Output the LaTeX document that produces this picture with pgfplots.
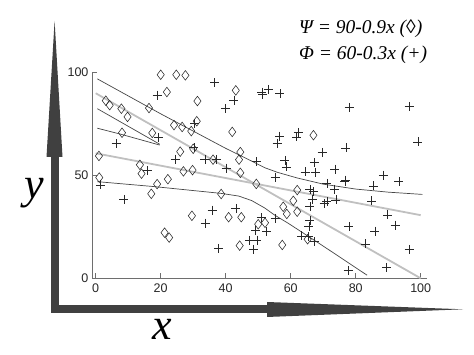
\documentclass[border=0pt]{standalone}
\usepackage{pgfplots}
\pgfplotsset{compat=1.18}
\usepackage{fontspec}
\setmainfont{Liberation Serif}
\newfontfamily\sansf{Liberation Sans}
\definecolor{arr}{RGB}{64,64,64}
\definecolor{lg}{RGB}{192,192,192}
\definecolor{dk}{RGB}{70,70,70}
\definecolor{mk}{RGB}{40,40,40}
\definecolor{ax}{RGB}{110,110,110}

\pgfplotstableread{
x y
20.0 99.0
24.8 99.0
27.6 98.7
21.9 90.6
31.3 86.2
43.1 91.4
3.1 86.4
4.3 84.2
7.9 82.5
9.8 78.5
16.4 82.8
8.1 70.8
17.4 70.7
24.1 74.5
26.6 73.6
29.4 71.6
31.1 76.4
42.0 71.2
1.0 59.5
26.0 61.6
30.0 63.0
44.5 61.4
44.1 57.7
36.1 57.7
13.6 55.2
27.0 52.0
29.8 52.6
44.5 51.3
1.1 49.0
14.1 50.9
18.9 45.8
22.2 48.2
17.1 41.1
38.6 41.0
29.6 30.4
40.9 29.7
44.8 29.7
21.2 22.2
22.6 19.8
44.3 15.9
49.4 45.9
50.0 26.3
52.1 27.0
62.0 42.9
60.8 37.7
57.7 34.8
58.8 31.3
62.0 32.4
57.4 16.2
65.2 19.0
67.0 69.6
}\psidata

\pgfplotstableread{
x y
36.6 95.1
18.9 89.1
42.5 86.6
39.9 82.5
30.4 75.3
19.3 68.5
6.3 65.5
30.2 63.5
24.4 58.0
33.6 57.9
37.1 57.9
40.1 53.6
15.9 52.5
49.4 56.7
51.1 90.6
53.1 91.9
51.3 89.3
56.7 89.8
78.0 83.1
96.4 83.6
99.1 66.3
56.6 69.2
55.8 65.6
62.3 71.0
61.8 68.8
69.7 61.3
77.0 63.4
58.2 57.4
58.7 54.2
67.3 56.3
64.4 51.8
67.5 51.6
73.6 53.1
1.5 45.4
8.7 38.4
35.8 33.2
33.7 26.8
43.1 34.0
37.8 14.6
49.1 23.2
47.4 18.4
48.6 14.1
49.6 18.6
55.2 49.2
88.5 50.2
93.3 47.0
85.4 44.9
71.1 46.2
73.4 43.3
76.7 47.2
76.9 47.8
65.9 43.3
67.0 42.1
66.6 38.4
71.1 37.3
70.3 36.5
73.9 38.1
84.9 37.7
65.9 34.8
89.8 30.8
92.1 25.9
85.9 23.0
77.9 25.1
65.9 28.0
65.6 25.4
55.2 29.2
52.6 22.7
63.4 20.6
65.4 20.2
67.3 17.8
82.9 16.7
96.4 14.1
89.5 5.3
77.7 3.7
51.0 29.5
}\phidata

\begin{document}
\begin{tikzpicture}
\useasboundingbox (0pt,0pt) rectangle (474pt,355pt);
% big axis arrows
\fill[arr] (51pt,42pt) rectangle (58.5pt,198pt);
\fill[arr] (46.5pt,198pt) -- (62.5pt,198pt) -- (54.6pt,334pt) -- cycle;
\fill[arr] (51pt,42pt) rectangle (267pt,49.5pt);
\fill[arr] (267pt,53pt) -- (267pt,38pt) -- (463pt,45.7pt) -- cycle;
\node[inner sep=0pt, font=\fontsize{44}{50}\selectfont\itshape] at (34.2pt,161.7pt) {y};
\node[inner sep=0pt, font=\fontsize{44}{50}\selectfont\itshape] at (162.5pt,26pt) {x};
% equations
\node[anchor=base west, inner sep=0pt, font=\fontsize{19.5}{22}\selectfont\itshape] at (299pt,321.7pt) {Ψ = 90-0.9x (◊)};
\node[anchor=base west, inner sep=0pt, font=\fontsize{19.5}{22}\selectfont\itshape] at (299pt,295.7pt) {Φ = 60-0.3x (+)};

\begin{axis}[
  at={(92.45pt,76.7pt)}, anchor=south west,
  x=3.25pt, y=2.056pt,
  xmin=-1, xmax=102, ymin=0, ymax=100,
  axis x line=bottom, axis y line=left,
  axis line style={ax, -, line width=0.7pt},
  xtick={0,20,40,60,80,100}, ytick={0,50,100},
  tick align=inside, major tick length=5pt,
  tick style={ax, line width=0.7pt},
  ticklabel style={font=\sansf\fontsize{12.5}{14}\selectfont, text=black!85},
  /pgf/number format/assume math mode=true,
  xticklabel style={yshift=-2pt},
  yticklabel style={xshift=-0.5pt},
  clip=false,
]
\addplot[lg, line width=1.8pt] coordinates {(0,90) (100,0)};
\addplot[lg, line width=1.8pt] coordinates {(0,60.8) (100,30.7)};
\addplot[dk, line width=0.7pt] coordinates {(0.5,97) (20,80) (40,63.2) (48,57) (52,53.8) (56,51.5) (62,48.8) (70,45.8) (80,43.4) (90,41.9) (100.5,40.8)};
\addplot[dk, line width=0.7pt] coordinates {(0.5,47) (18,44.6) (38.6,41.3) (44,40) (48,37.8) (52,34.2) (55,30.8) (59.3,26.7) (69.5,16.2) (83.5,1.5)};
\addplot[dk, line width=0.7pt] coordinates {(0.5,82.5) (19.7,65.2)};
\addplot[dk, line width=0.7pt] coordinates {(0.5,73) (7.9,70) (19.7,64.8)};
\addplot[only marks, mark=diamond, mark size=4.8pt, mark options={draw=mk, fill=none, line width=0.55pt}] table {\psidata};
\addplot[only marks, mark=+, mark size=4.5pt, mark options={draw=mk, line width=0.55pt}] table {\phidata};
\end{axis}
\end{tikzpicture}
\end{document}
